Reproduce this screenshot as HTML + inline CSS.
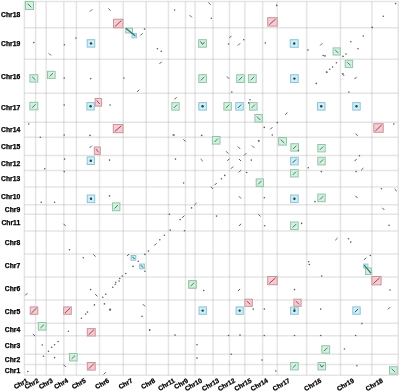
<!DOCTYPE html><html><head><meta charset="utf-8"><style>html,body{margin:0;padding:0;background:#fff;}svg{display:block;}text{font-family:"Liberation Sans",Arial,sans-serif;font-weight:bold;fill:#000;stroke:#000;stroke-width:0.25px;}</style></head><body>
<svg width="400" height="392" viewBox="0 0 400 392">
<rect width="400" height="392" fill="#fff"/>
<g>
<g stroke="#b9b9b9" stroke-opacity="0.37" stroke-width="1.5"><line x1="24.4" y1="1.4" x2="24.4" y2="375.3"/><line x1="35.6" y1="1.4" x2="35.6" y2="375.3"/><line x1="46.2" y1="1.4" x2="46.2" y2="375.3"/><line x1="63.9" y1="1.4" x2="63.9" y2="375.3"/><line x1="76.4" y1="1.4" x2="76.4" y2="375.3"/><line x1="99.5" y1="1.4" x2="99.5" y2="375.3"/><line x1="123.2" y1="1.4" x2="123.2" y2="375.3"/><line x1="146.2" y1="1.4" x2="146.2" y2="375.3"/><line x1="168.45" y1="1.4" x2="168.45" y2="375.3"/><line x1="185.5" y1="1.4" x2="185.5" y2="375.3"/><line x1="195.1" y1="1.4" x2="195.1" y2="375.3"/><line x1="213.0" y1="1.4" x2="213.0" y2="375.3"/><line x1="229.5" y1="1.4" x2="229.5" y2="375.3"/><line x1="244.9" y1="1.4" x2="244.9" y2="375.3"/><line x1="262.6" y1="1.4" x2="262.6" y2="375.3"/><line x1="277.3" y1="1.4" x2="277.3" y2="375.3"/><line x1="306.6" y1="1.4" x2="306.6" y2="375.3"/><line x1="340.45" y1="1.4" x2="340.45" y2="375.3"/><line x1="371.9" y1="1.4" x2="371.9" y2="375.3"/><line x1="398.2" y1="1.4" x2="398.2" y2="375.3"/><line x1="24.4" y1="1.4" x2="398.2" y2="1.4"/><line x1="24.4" y1="27.7" x2="398.2" y2="27.7"/><line x1="24.4" y1="59.3" x2="398.2" y2="59.3"/><line x1="24.4" y1="93.2" x2="398.2" y2="93.2"/><line x1="24.4" y1="122.2" x2="398.2" y2="122.2"/><line x1="24.4" y1="137.3" x2="398.2" y2="137.3"/><line x1="24.4" y1="155.5" x2="398.2" y2="155.5"/><line x1="24.4" y1="170.4" x2="398.2" y2="170.4"/><line x1="24.4" y1="187.0" x2="398.2" y2="187.0"/><line x1="24.4" y1="204.7" x2="398.2" y2="204.7"/><line x1="24.4" y1="214.3" x2="398.2" y2="214.3"/><line x1="24.4" y1="231.1" x2="398.2" y2="231.1"/><line x1="24.4" y1="254.0" x2="398.2" y2="254.0"/><line x1="24.4" y1="276.9" x2="398.2" y2="276.9"/><line x1="24.4" y1="300.1" x2="398.2" y2="300.1"/><line x1="24.4" y1="323.3" x2="398.2" y2="323.3"/><line x1="24.4" y1="335.7" x2="398.2" y2="335.7"/><line x1="24.4" y1="354.2" x2="398.2" y2="354.2"/><line x1="24.4" y1="364.4" x2="398.2" y2="364.4"/><line x1="24.4" y1="375.3" x2="398.2" y2="375.3"/></g>
<rect x="25.5" y="1.5" width="8.0" height="8.0" fill="#d2f2e0" stroke="#93c4a8" stroke-width="1"/><line x1="27.7" y1="3.7" x2="31.3" y2="7.3" stroke="#3f6e58" stroke-width="0.9"/><rect x="87.2" y="39.7" width="7.5" height="7.4" fill="#cdf0f8" stroke="#8fc3d3" stroke-width="1"/><circle cx="91.0" cy="43.4" r="1.2" fill="#1f3f52"/><rect x="113.5" y="19.2" width="9.5" height="8.6" fill="#f6ccd0" stroke="#c8959e" stroke-width="1"/><line x1="115.1" y1="26.4" x2="121.4" y2="20.6" stroke="#8a3a4a" stroke-width="0.9"/><rect x="125.7" y="28.2" width="6.8" height="4.8" fill="#d2f2e0" stroke="#93c4a8" stroke-width="1"/><rect x="132.0" y="33.4" width="4.4" height="4.4" fill="#cdf0f8" stroke="#8fc3d3" stroke-width="1"/><rect x="198.6" y="39.7" width="7.8" height="7.5" fill="#d2f2e0" stroke="#93c4a8" stroke-width="1"/><path d="M200.5 41.5 L202.5 44.5 L204.5 42.0" fill="none" stroke="#3f6e58" stroke-width="1"/><rect x="267.7" y="17.7" width="9.5" height="8.4" fill="#f6ccd0" stroke="#c8959e" stroke-width="1"/><line x1="269.3" y1="24.7" x2="275.6" y2="19.1" stroke="#8a3a4a" stroke-width="0.9"/><rect x="290.2" y="39.7" width="8.0" height="7.6" fill="#cdf0f8" stroke="#8fc3d3" stroke-width="1"/><circle cx="294.2" cy="43.5" r="1.2" fill="#1f3f52"/><rect x="333.1" y="47.9" width="7.2" height="7.1" fill="#d2f2e0" stroke="#93c4a8" stroke-width="1"/><line x1="335.1" y1="49.8" x2="338.3" y2="53.1" stroke="#3f6e58" stroke-width="0.9"/><rect x="345.2" y="60.2" width="7.4" height="7.2" fill="#d2f2e0" stroke="#93c4a8" stroke-width="1"/><line x1="347.2" y1="62.2" x2="350.6" y2="65.4" stroke="#3f6e58" stroke-width="0.9"/><rect x="29.9" y="74.7" width="7.9" height="7.4" fill="#d2f2e0" stroke="#93c4a8" stroke-width="1"/><line x1="32.1" y1="76.7" x2="35.6" y2="80.1" stroke="#3f6e58" stroke-width="0.9"/><rect x="47.5" y="71.3" width="7.6" height="7.1" fill="#d2f2e0" stroke="#93c4a8" stroke-width="1"/><line x1="49.6" y1="76.5" x2="53.0" y2="73.2" stroke="#3f6e58" stroke-width="0.9"/><rect x="29.9" y="102.3" width="7.9" height="7.5" fill="#d2f2e0" stroke="#93c4a8" stroke-width="1"/><line x1="32.1" y1="107.8" x2="35.6" y2="104.3" stroke="#3f6e58" stroke-width="0.9"/><rect x="86.9" y="102.6" width="7.4" height="7.4" fill="#cdf0f8" stroke="#8fc3d3" stroke-width="1"/><circle cx="90.6" cy="106.3" r="1.2" fill="#1f3f52"/><rect x="95.1" y="98.5" width="6.5" height="7.6" fill="#f6ccd0" stroke="#c8959e" stroke-width="1"/><line x1="96.8" y1="100.6" x2="99.8" y2="104.0" stroke="#8a3a4a" stroke-width="0.9"/><rect x="113.3" y="124.5" width="9.7" height="8.2" fill="#f6ccd0" stroke="#c8959e" stroke-width="1"/><line x1="114.9" y1="131.4" x2="121.4" y2="125.8" stroke="#8a3a4a" stroke-width="0.9"/><rect x="171.8" y="102.6" width="7.4" height="7.5" fill="#d2f2e0" stroke="#93c4a8" stroke-width="1"/><line x1="173.8" y1="108.0" x2="177.2" y2="104.6" stroke="#3f6e58" stroke-width="0.9"/><rect x="198.8" y="74.7" width="7.6" height="7.8" fill="#d2f2e0" stroke="#93c4a8" stroke-width="1"/><line x1="200.9" y1="80.4" x2="204.3" y2="76.8" stroke="#3f6e58" stroke-width="0.9"/><rect x="236.7" y="74.7" width="7.6" height="7.8" fill="#d2f2e0" stroke="#93c4a8" stroke-width="1"/><line x1="238.8" y1="80.4" x2="242.2" y2="76.8" stroke="#3f6e58" stroke-width="0.9"/><rect x="248.4" y="74.7" width="7.8" height="7.8" fill="#d2f2e0" stroke="#93c4a8" stroke-width="1"/><line x1="250.5" y1="80.4" x2="254.1" y2="76.8" stroke="#3f6e58" stroke-width="0.9"/><rect x="198.8" y="102.6" width="7.6" height="7.5" fill="#cdf0f8" stroke="#8fc3d3" stroke-width="1"/><circle cx="202.6" cy="106.3" r="1.2" fill="#1f3f52"/><rect x="223.9" y="102.6" width="7.4" height="7.5" fill="#d2f2e0" stroke="#93c4a8" stroke-width="1"/><line x1="225.9" y1="108.0" x2="229.3" y2="104.6" stroke="#3f6e58" stroke-width="0.9"/><rect x="235.7" y="102.6" width="7.6" height="7.5" fill="#cdf0f8" stroke="#8fc3d3" stroke-width="1"/><line x1="237.8" y1="108.0" x2="241.2" y2="104.6" stroke="#1f3f52" stroke-width="0.9"/><rect x="212.4" y="136.5" width="7.6" height="7.6" fill="#d2f2e0" stroke="#93c4a8" stroke-width="1"/><line x1="214.5" y1="142.0" x2="217.9" y2="138.6" stroke="#3f6e58" stroke-width="0.9"/><rect x="290.6" y="74.7" width="7.6" height="7.8" fill="#cdf0f8" stroke="#8fc3d3" stroke-width="1"/><circle cx="294.4" cy="78.6" r="1.2" fill="#1f3f52"/><rect x="249.5" y="102.6" width="7.6" height="7.5" fill="#d2f2e0" stroke="#93c4a8" stroke-width="1"/><line x1="251.6" y1="108.0" x2="255.0" y2="104.6" stroke="#3f6e58" stroke-width="0.9"/><rect x="254.9" y="114.5" width="7.4" height="7.6" fill="#d2f2e0" stroke="#93c4a8" stroke-width="1"/><line x1="256.9" y1="116.6" x2="260.3" y2="120.0" stroke="#3f6e58" stroke-width="0.9"/><rect x="278.6" y="137.5" width="7.8" height="7.6" fill="#d2f2e0" stroke="#93c4a8" stroke-width="1"/><line x1="280.7" y1="139.6" x2="284.3" y2="143.0" stroke="#3f6e58" stroke-width="0.9"/><rect x="290.9" y="143.7" width="7.6" height="7.4" fill="#d2f2e0" stroke="#93c4a8" stroke-width="1"/><line x1="293.0" y1="149.1" x2="296.4" y2="145.7" stroke="#3f6e58" stroke-width="0.9"/><rect x="317.4" y="102.6" width="7.6" height="7.5" fill="#cdf0f8" stroke="#8fc3d3" stroke-width="1"/><circle cx="321.2" cy="106.3" r="1.2" fill="#1f3f52"/><rect x="352.8" y="102.6" width="7.4" height="7.5" fill="#cdf0f8" stroke="#8fc3d3" stroke-width="1"/><circle cx="356.5" cy="106.3" r="1.2" fill="#1f3f52"/><rect x="373.8" y="123.7" width="9.4" height="8.6" fill="#f6ccd0" stroke="#c8959e" stroke-width="1"/><line x1="375.4" y1="130.9" x2="381.6" y2="125.1" stroke="#8a3a4a" stroke-width="0.9"/><rect x="94.3" y="147.0" width="6.0" height="7.4" fill="#f6ccd0" stroke="#c8959e" stroke-width="1"/><line x1="95.9" y1="149.0" x2="98.7" y2="152.4" stroke="#8a3a4a" stroke-width="0.9"/><rect x="87.2" y="156.9" width="7.2" height="7.6" fill="#cdf0f8" stroke="#8fc3d3" stroke-width="1"/><circle cx="90.8" cy="160.7" r="1.2" fill="#1f3f52"/><rect x="87.3" y="195.0" width="7.4" height="7.6" fill="#cdf0f8" stroke="#8fc3d3" stroke-width="1"/><circle cx="91.0" cy="198.8" r="1.2" fill="#1f3f52"/><rect x="112.5" y="202.9" width="7.4" height="7.8" fill="#d2f2e0" stroke="#93c4a8" stroke-width="1"/><line x1="114.5" y1="208.6" x2="117.9" y2="205.0" stroke="#3f6e58" stroke-width="0.9"/><rect x="317.8" y="144.5" width="7.4" height="7.4" fill="#d2f2e0" stroke="#93c4a8" stroke-width="1"/><line x1="319.8" y1="149.9" x2="323.2" y2="146.5" stroke="#3f6e58" stroke-width="0.9"/><rect x="290.6" y="157.3" width="7.6" height="7.6" fill="#cdf0f8" stroke="#8fc3d3" stroke-width="1"/><line x1="292.7" y1="162.8" x2="296.1" y2="159.4" stroke="#1f3f52" stroke-width="0.9"/><rect x="317.8" y="157.3" width="7.4" height="7.6" fill="#d2f2e0" stroke="#93c4a8" stroke-width="1"/><line x1="319.8" y1="162.8" x2="323.2" y2="159.4" stroke="#3f6e58" stroke-width="0.9"/><rect x="290.6" y="169.6" width="7.6" height="7.4" fill="#d2f2e0" stroke="#93c4a8" stroke-width="1"/><line x1="292.7" y1="175.0" x2="296.1" y2="171.6" stroke="#3f6e58" stroke-width="0.9"/><rect x="256.2" y="178.9" width="7.2" height="7.5" fill="#d2f2e0" stroke="#93c4a8" stroke-width="1"/><line x1="258.2" y1="184.3" x2="261.4" y2="181.0" stroke="#3f6e58" stroke-width="0.9"/><rect x="290.6" y="195.0" width="7.6" height="7.6" fill="#cdf0f8" stroke="#8fc3d3" stroke-width="1"/><circle cx="294.4" cy="198.8" r="1.2" fill="#1f3f52"/><rect x="317.8" y="194.1" width="7.4" height="7.6" fill="#d2f2e0" stroke="#93c4a8" stroke-width="1"/><line x1="319.8" y1="199.6" x2="323.2" y2="196.2" stroke="#3f6e58" stroke-width="0.9"/><rect x="131.1" y="255.5" width="4.7" height="4.7" fill="#cdf0f8" stroke="#8fc3d3" stroke-width="1"/><line x1="132.3" y1="256.7" x2="134.6" y2="259.0" stroke="#1f3f52" stroke-width="0.9"/><rect x="139.7" y="264.1" width="4.7" height="4.7" fill="#cdf0f8" stroke="#8fc3d3" stroke-width="1"/><line x1="140.9" y1="265.3" x2="143.2" y2="267.6" stroke="#1f3f52" stroke-width="0.9"/><rect x="188.8" y="280.7" width="7.3" height="7.4" fill="#d2f2e0" stroke="#93c4a8" stroke-width="1"/><line x1="190.8" y1="286.1" x2="194.1" y2="282.7" stroke="#3f6e58" stroke-width="0.9"/><rect x="290.6" y="222.0" width="7.6" height="7.6" fill="#d2f2e0" stroke="#93c4a8" stroke-width="1"/><line x1="292.7" y1="227.5" x2="296.1" y2="224.1" stroke="#3f6e58" stroke-width="0.9"/><rect x="267.7" y="276.5" width="9.5" height="8.2" fill="#f6ccd0" stroke="#c8959e" stroke-width="1"/><line x1="269.3" y1="283.4" x2="275.6" y2="277.8" stroke="#8a3a4a" stroke-width="0.9"/><rect x="363.7" y="264.1" width="4.2" height="4.0" fill="#cdf0f8" stroke="#8fc3d3" stroke-width="1"/><rect x="365.6" y="267.9" width="5.7" height="6.6" fill="#d2f2e0" stroke="#93c4a8" stroke-width="1"/><rect x="371.9" y="276.5" width="9.2" height="8.4" fill="#f6ccd0" stroke="#c8959e" stroke-width="1"/><line x1="373.4" y1="283.5" x2="379.6" y2="277.9" stroke="#8a3a4a" stroke-width="0.9"/><rect x="30.2" y="306.9" width="7.6" height="7.4" fill="#f6ccd0" stroke="#c8959e" stroke-width="1"/><line x1="31.4" y1="313.1" x2="36.6" y2="308.1" stroke="#8a3a4a" stroke-width="0.9"/><rect x="63.7" y="306.9" width="7.6" height="7.4" fill="#f6ccd0" stroke="#c8959e" stroke-width="1"/><line x1="64.9" y1="313.1" x2="70.1" y2="308.1" stroke="#8a3a4a" stroke-width="0.9"/><rect x="38.3" y="322.5" width="7.8" height="7.6" fill="#d2f2e0" stroke="#93c4a8" stroke-width="1"/><line x1="40.4" y1="328.0" x2="44.0" y2="324.6" stroke="#3f6e58" stroke-width="0.9"/><rect x="87.3" y="328.6" width="7.9" height="7.4" fill="#f6ccd0" stroke="#c8959e" stroke-width="1"/><line x1="88.6" y1="334.8" x2="93.9" y2="329.8" stroke="#8a3a4a" stroke-width="0.9"/><rect x="69.5" y="353.5" width="7.6" height="7.4" fill="#d2f2e0" stroke="#93c4a8" stroke-width="1"/><line x1="71.6" y1="358.9" x2="75.0" y2="355.5" stroke="#3f6e58" stroke-width="0.9"/><rect x="87.3" y="362.5" width="7.9" height="7.6" fill="#f6ccd0" stroke="#c8959e" stroke-width="1"/><line x1="88.6" y1="368.9" x2="93.9" y2="363.7" stroke="#8a3a4a" stroke-width="0.9"/><rect x="188.8" y="280.7" width="7.3" height="7.4" fill="#d2f2e0" stroke="#93c4a8" stroke-width="1"/><line x1="190.8" y1="286.1" x2="194.1" y2="282.7" stroke="#3f6e58" stroke-width="0.9"/><rect x="199.0" y="306.9" width="7.4" height="7.4" fill="#cdf0f8" stroke="#8fc3d3" stroke-width="1"/><circle cx="202.7" cy="310.6" r="1.2" fill="#1f3f52"/><rect x="236.1" y="306.9" width="7.2" height="7.4" fill="#cdf0f8" stroke="#8fc3d3" stroke-width="1"/><circle cx="239.7" cy="310.6" r="1.2" fill="#1f3f52"/><rect x="244.9" y="299.2" width="7.4" height="7.1" fill="#f6ccd0" stroke="#c8959e" stroke-width="1"/><line x1="246.9" y1="301.1" x2="250.3" y2="304.4" stroke="#8a3a4a" stroke-width="0.9"/><rect x="293.9" y="299.2" width="7.2" height="7.1" fill="#f6ccd0" stroke="#c8959e" stroke-width="1"/><line x1="295.9" y1="301.1" x2="299.1" y2="304.4" stroke="#8a3a4a" stroke-width="0.9"/><rect x="290.6" y="307.1" width="7.6" height="7.2" fill="#cdf0f8" stroke="#8fc3d3" stroke-width="1"/><circle cx="294.4" cy="310.7" r="1.2" fill="#1f3f52"/><rect x="352.8" y="306.9" width="7.4" height="7.4" fill="#cdf0f8" stroke="#8fc3d3" stroke-width="1"/><line x1="354.8" y1="312.3" x2="358.2" y2="308.9" stroke="#1f3f52" stroke-width="0.9"/><rect x="321.8" y="345.7" width="7.8" height="7.5" fill="#d2f2e0" stroke="#93c4a8" stroke-width="1"/><line x1="323.9" y1="351.1" x2="327.5" y2="347.8" stroke="#3f6e58" stroke-width="0.9"/><rect x="290.6" y="362.5" width="7.6" height="7.4" fill="#d2f2e0" stroke="#93c4a8" stroke-width="1"/><line x1="292.7" y1="367.9" x2="296.1" y2="364.5" stroke="#3f6e58" stroke-width="0.9"/><rect x="318.0" y="362.5" width="7.5" height="7.4" fill="#d2f2e0" stroke="#93c4a8" stroke-width="1"/><path d="M319.8 364.2 L321.8 367.2 L323.8 364.7" fill="none" stroke="#3f6e58" stroke-width="1"/><rect x="389.5" y="366.7" width="7.7" height="7.4" fill="#d2f2e0" stroke="#93c4a8" stroke-width="1"/><line x1="391.6" y1="368.7" x2="395.1" y2="372.1" stroke="#3f6e58" stroke-width="0.9"/>
<line x1="125.8" y1="28.3" x2="135.3" y2="36" stroke="#2f6f72" stroke-width="1.1"/>
<line x1="364.2" y1="265.1" x2="370.9" y2="273.1" stroke="#2f6f72" stroke-width="1.1"/>
<g fill="#5a5a5a"><circle cx="33.8" cy="42.6" r="0.8"/><circle cx="64.4" cy="44.7" r="0.8"/><circle cx="75.9" cy="38" r="0.8"/><line x1="48.8" y1="53.3" x2="51.0" y2="55.5" stroke="#5a5a5a" stroke-width="1"/><line x1="89.9" y1="11.6" x2="92.1" y2="9.4" stroke="#5a5a5a" stroke-width="1"/><line x1="108.4" y1="8.5" x2="110.6" y2="10.7" stroke="#5a5a5a" stroke-width="1"/><circle cx="144.5" cy="29.1" r="0.8"/><line x1="140.3" y1="35.5" x2="142.5" y2="33.3" stroke="#5a5a5a" stroke-width="1"/><circle cx="157.4" cy="48.8" r="0.8"/><circle cx="161.2" cy="51.3" r="0.8"/><line x1="159.5" y1="63.9" x2="161.7" y2="61.7" stroke="#5a5a5a" stroke-width="1"/><circle cx="174.6" cy="10.0" r="0.8"/><line x1="189.7" y1="15.2" x2="191.9" y2="17.4" stroke="#5a5a5a" stroke-width="1"/><line x1="208.4" y1="2.5" x2="210.6" y2="4.7" stroke="#5a5a5a" stroke-width="1"/><circle cx="211.3" cy="18.2" r="0.8"/><line x1="229.3" y1="38.0" x2="231.5" y2="35.8" stroke="#5a5a5a" stroke-width="1"/><circle cx="228.5" cy="44" r="0.8"/><line x1="237.9" y1="45.5" x2="240.1" y2="43.3" stroke="#5a5a5a" stroke-width="1"/><circle cx="243.8" cy="39.8" r="0.8"/><circle cx="276.7" cy="5.4" r="0.8"/><circle cx="265.3" cy="43" r="0.8"/><circle cx="307.9" cy="50.1" r="0.8"/><line x1="320.2" y1="45.5" x2="322.4" y2="43.3" stroke="#5a5a5a" stroke-width="1"/><circle cx="323.2" cy="55.5" r="0.8"/><circle cx="395.6" cy="3.6" r="0.8"/><circle cx="383.3" cy="16.3" r="0.8"/><circle cx="372.2" cy="27.4" r="0.8"/><circle cx="363.2" cy="36" r="0.8"/><circle cx="350.8" cy="41.7" r="0.8"/><circle cx="358" cy="48.8" r="0.8"/><circle cx="346" cy="54" r="0.8"/><circle cx="343" cy="56.4" r="0.8"/><circle cx="325" cy="55.9" r="0.8"/><circle cx="336.4" cy="62.8" r="0.8"/><circle cx="332.6" cy="67" r="0.8"/><circle cx="329.7" cy="69.3" r="0.8"/><circle cx="326.9" cy="72.3" r="0.8"/><circle cx="343" cy="73.7" r="0.8"/><circle cx="64.2" cy="78" r="0.8"/><circle cx="90.6" cy="78.6" r="0.8"/><circle cx="64.2" cy="105" r="0.8"/><circle cx="28.8" cy="124" r="0.8"/><circle cx="40.3" cy="137.3" r="0.8"/><circle cx="64.2" cy="135" r="0.8"/><circle cx="90" cy="135.4" r="0.8"/><circle cx="123.9" cy="78" r="0.8"/><line x1="137.1" y1="91.9" x2="139.3" y2="89.7" stroke="#5a5a5a" stroke-width="1"/><circle cx="110.1" cy="105" r="0.8"/><circle cx="173.2" cy="135" r="0.8"/><line x1="227.0" y1="76.6" x2="229.2" y2="78.8" stroke="#5a5a5a" stroke-width="1"/><circle cx="231.8" cy="92" r="0.8"/><line x1="174.4" y1="99.4" x2="176.6" y2="97.2" stroke="#5a5a5a" stroke-width="1"/><circle cx="248.6" cy="102.9" r="0.8"/><circle cx="174" cy="135" r="0.8"/><line x1="183.4" y1="139.3" x2="185.6" y2="141.5" stroke="#5a5a5a" stroke-width="1"/><circle cx="201.7" cy="135.4" r="0.8"/><circle cx="316.3" cy="83.4" r="0.8"/><circle cx="250" cy="99.7" r="0.8"/><line x1="285.2" y1="114.7" x2="287.4" y2="112.5" stroke="#5a5a5a" stroke-width="1"/><circle cx="277.3" cy="122.6" r="0.8"/><circle cx="264.3" cy="127.4" r="0.8"/><line x1="270.2" y1="129.4" x2="272.4" y2="127.2" stroke="#5a5a5a" stroke-width="1"/><circle cx="272.3" cy="135" r="0.8"/><circle cx="258.6" cy="140.8" r="0.8"/><circle cx="326.5" cy="72" r="0.8"/><line x1="342.0" y1="73.7" x2="344.2" y2="75.9" stroke="#5a5a5a" stroke-width="1"/><line x1="354.5" y1="79.1" x2="356.7" y2="76.9" stroke="#5a5a5a" stroke-width="1"/><circle cx="348.9" cy="92" r="0.8"/><circle cx="393.8" cy="124" r="0.8"/><line x1="355.4" y1="133.6" x2="357.6" y2="135.8" stroke="#5a5a5a" stroke-width="1"/><line x1="89.7" y1="147.9" x2="91.9" y2="145.7" stroke="#5a5a5a" stroke-width="1"/><circle cx="64.6" cy="159.1" r="0.8"/><circle cx="44.7" cy="168.7" r="0.8"/><circle cx="64.2" cy="171.6" r="0.8"/><circle cx="41.2" cy="202.2" r="0.8"/><circle cx="54.6" cy="202.2" r="0.8"/><circle cx="109.5" cy="160.1" r="0.8"/><circle cx="109.5" cy="195.9" r="0.8"/><line x1="237.9" y1="146.6" x2="240.1" y2="148.8" stroke="#5a5a5a" stroke-width="1"/><line x1="226.1" y1="151.3" x2="228.3" y2="153.5" stroke="#5a5a5a" stroke-width="1"/><line x1="244.1" y1="155.4" x2="246.3" y2="153.2" stroke="#5a5a5a" stroke-width="1"/><circle cx="175.5" cy="159.1" r="0.8"/><line x1="200.6" y1="159.0" x2="202.8" y2="161.2" stroke="#5a5a5a" stroke-width="1"/><line x1="227.4" y1="160.8" x2="229.6" y2="158.6" stroke="#5a5a5a" stroke-width="1"/><line x1="238.9" y1="158.9" x2="241.1" y2="161.1" stroke="#5a5a5a" stroke-width="1"/><line x1="231.0" y1="168.7" x2="233.2" y2="166.5" stroke="#5a5a5a" stroke-width="1"/><line x1="238.9" y1="172.3" x2="241.1" y2="170.1" stroke="#5a5a5a" stroke-width="1"/><circle cx="246.7" cy="172.5" r="0.8"/><circle cx="224.7" cy="175.4" r="0.8"/><circle cx="221.4" cy="178.8" r="0.8"/><line x1="214.6" y1="185.1" x2="216.8" y2="182.9" stroke="#5a5a5a" stroke-width="1"/><line x1="210.8" y1="186.7" x2="213.0" y2="188.9" stroke="#5a5a5a" stroke-width="1"/><circle cx="183.6" cy="183" r="0.8"/><line x1="238.9" y1="196.3" x2="241.1" y2="198.5" stroke="#5a5a5a" stroke-width="1"/><line x1="194.3" y1="205.2" x2="196.5" y2="203.0" stroke="#5a5a5a" stroke-width="1"/><circle cx="191.6" cy="207.9" r="0.8"/><circle cx="259" cy="141" r="0.8"/><line x1="252.1" y1="145.6" x2="254.3" y2="147.8" stroke="#5a5a5a" stroke-width="1"/><circle cx="298.4" cy="150.5" r="0.8"/><circle cx="251.3" cy="160.1" r="0.8"/><circle cx="308.3" cy="167.7" r="0.8"/><circle cx="321.3" cy="171.6" r="0.8"/><circle cx="264.3" cy="197.8" r="0.8"/><circle cx="315" cy="201.6" r="0.8"/><circle cx="359.4" cy="155.7" r="0.8"/><line x1="354.5" y1="161.2" x2="356.7" y2="159.0" stroke="#5a5a5a" stroke-width="1"/><circle cx="356.1" cy="171.6" r="0.8"/><line x1="361.2" y1="170.2" x2="363.4" y2="168.0" stroke="#5a5a5a" stroke-width="1"/><circle cx="381.4" cy="188.8" r="0.8"/><line x1="394.6" y1="189.0" x2="396.8" y2="191.2" stroke="#5a5a5a" stroke-width="1"/><line x1="355.4" y1="195.9" x2="357.6" y2="198.1" stroke="#5a5a5a" stroke-width="1"/><line x1="382.2" y1="207.8" x2="384.4" y2="210.0" stroke="#5a5a5a" stroke-width="1"/><line x1="63.5" y1="223.8" x2="65.7" y2="226.0" stroke="#5a5a5a" stroke-width="1"/><circle cx="69.5" cy="249.8" r="0.8"/><circle cx="83.3" cy="257.8" r="0.8"/><line x1="93.3" y1="254.4" x2="95.5" y2="256.6" stroke="#5a5a5a" stroke-width="1"/><circle cx="169.4" cy="214.2" r="0.8"/><circle cx="170.2" cy="230.1" r="0.8"/><circle cx="164.4" cy="235.3" r="0.8"/><circle cx="159.8" cy="239.7" r="0.8"/><line x1="154.3" y1="245.5" x2="156.5" y2="243.3" stroke="#5a5a5a" stroke-width="1"/><circle cx="148.4" cy="251.1" r="0.8"/><circle cx="144.9" cy="254.4" r="0.8"/><line x1="127.0" y1="256.1" x2="129.2" y2="253.9" stroke="#5a5a5a" stroke-width="1"/><circle cx="133" cy="266.4" r="0.8"/><circle cx="138.2" cy="261.3" r="0.8"/><circle cx="144.9" cy="271.2" r="0.8"/><circle cx="125.8" cy="273.5" r="0.8"/><circle cx="122.3" cy="276" r="0.8"/><circle cx="119.7" cy="278.5" r="0.8"/><circle cx="115.8" cy="282.3" r="0.8"/><line x1="182.1" y1="217.8" x2="184.3" y2="215.6" stroke="#5a5a5a" stroke-width="1"/><circle cx="180.1" cy="219.6" r="0.8"/><circle cx="216.5" cy="216.1" r="0.8"/><line x1="238.9" y1="226.0" x2="241.1" y2="223.8" stroke="#5a5a5a" stroke-width="1"/><circle cx="184.5" cy="230.7" r="0.8"/><line x1="258.4" y1="214.3" x2="260.6" y2="216.5" stroke="#5a5a5a" stroke-width="1"/><circle cx="264.7" cy="225.7" r="0.8"/><circle cx="301.6" cy="223.4" r="0.8"/><circle cx="308.7" cy="261.7" r="0.8"/><circle cx="309.3" cy="264.5" r="0.8"/><circle cx="321.7" cy="276" r="0.8"/><circle cx="389" cy="225.3" r="0.8"/><line x1="335.3" y1="240.2" x2="337.5" y2="238.0" stroke="#5a5a5a" stroke-width="1"/><circle cx="348.5" cy="238.7" r="0.8"/><circle cx="350.8" cy="242.1" r="0.8"/><line x1="364.0" y1="259.9" x2="366.2" y2="257.7" stroke="#5a5a5a" stroke-width="1"/><circle cx="370.3" cy="255.5" r="0.8"/><line x1="25.2" y1="295.4" x2="27.4" y2="293.2" stroke="#5a5a5a" stroke-width="1"/><circle cx="90.6" cy="289.6" r="0.8"/><line x1="95.2" y1="294.2" x2="97.4" y2="296.4" stroke="#5a5a5a" stroke-width="1"/><circle cx="94.4" cy="304.9" r="0.8"/><circle cx="87.5" cy="312.1" r="0.8"/><circle cx="85.6" cy="314.1" r="0.8"/><circle cx="81.4" cy="318.3" r="0.8"/><circle cx="68.4" cy="331.3" r="0.8"/><line x1="32.9" y1="334.0" x2="35.1" y2="336.2" stroke="#5a5a5a" stroke-width="1"/><circle cx="58.1" cy="341.6" r="0.8"/><circle cx="54.6" cy="344.7" r="0.8"/><circle cx="51.7" cy="347.3" r="0.8"/><circle cx="48.5" cy="351.2" r="0.8"/><circle cx="42.2" cy="345" r="0.8"/><circle cx="43.5" cy="356.2" r="0.8"/><circle cx="54.6" cy="357.6" r="0.8"/><line x1="63.5" y1="364.7" x2="65.7" y2="366.9" stroke="#5a5a5a" stroke-width="1"/><circle cx="27.8" cy="371.5" r="0.8"/><circle cx="119.1" cy="281" r="0.8"/><circle cx="115.3" cy="284.2" r="0.8"/><circle cx="112.8" cy="287.3" r="0.8"/><circle cx="105.7" cy="294.3" r="0.8"/><circle cx="102.8" cy="297.2" r="0.8"/><circle cx="104.4" cy="303.9" r="0.8"/><circle cx="110.1" cy="309.7" r="1.1"/><line x1="142.9" y1="304.2" x2="145.1" y2="306.4" stroke="#5a5a5a" stroke-width="1"/><circle cx="142" cy="316.3" r="0.8"/><circle cx="149.7" cy="330.1" r="0.8"/><circle cx="203.7" cy="290.5" r="0.8"/><line x1="237.9" y1="291.1" x2="240.1" y2="288.9" stroke="#5a5a5a" stroke-width="1"/><circle cx="175" cy="335.1" r="0.8"/><circle cx="228.5" cy="335.5" r="0.8"/><circle cx="240" cy="335.1" r="0.8"/><circle cx="197" cy="344.7" r="0.8"/><circle cx="231.2" cy="354.3" r="0.8"/><circle cx="197" cy="358.1" r="0.8"/><circle cx="294.5" cy="289.6" r="0.8"/><circle cx="253.2" cy="309.1" r="0.8"/><circle cx="264.3" cy="309.1" r="0.8"/><circle cx="294.5" cy="309.1" r="0.8"/><circle cx="320.7" cy="309.1" r="0.8"/><circle cx="264.3" cy="335.5" r="0.8"/><circle cx="294.5" cy="335.5" r="0.8"/><circle cx="320.7" cy="335.5" r="0.8"/><circle cx="390" cy="290" r="0.8"/><line x1="387.9" y1="309.4" x2="390.1" y2="307.2" stroke="#5a5a5a" stroke-width="1"/><circle cx="361.9" cy="323.6" r="0.8"/><circle cx="355.6" cy="335.5" r="0.8"/><circle cx="344.4" cy="349" r="0.8"/><circle cx="262" cy="360" r="0.8"/><circle cx="275.8" cy="371" r="0.8"/><circle cx="356.9" cy="365.8" r="0.8"/><circle cx="149.7" cy="330" r="0.8"/><line x1="103.6" y1="374.5" x2="105.8" y2="372.3" stroke="#5a5a5a" stroke-width="1"/></g>
<text x="20.3" y="17.2" font-size="6.8" text-anchor="end">Chr18</text><text x="20.3" y="46.2" font-size="6.8" text-anchor="end">Chr19</text><text x="20.3" y="79.0" font-size="6.8" text-anchor="end">Chr16</text><text x="20.3" y="110.4" font-size="6.8" text-anchor="end">Chr17</text><text x="20.3" y="132.4" font-size="6.8" text-anchor="end">Chr14</text><text x="20.3" y="149.1" font-size="6.8" text-anchor="end">Chr15</text><text x="20.3" y="165.6" font-size="6.8" text-anchor="end">Chr12</text><text x="20.3" y="181.4" font-size="6.8" text-anchor="end">Chr13</text><text x="20.3" y="198.5" font-size="6.8" text-anchor="end">Chr10</text><text x="20.3" y="212.2" font-size="6.8" text-anchor="end">Chr9</text><text x="20.3" y="225.4" font-size="6.8" text-anchor="end">Chr11</text><text x="20.3" y="245.2" font-size="6.8" text-anchor="end">Chr8</text><text x="20.3" y="268.1" font-size="6.8" text-anchor="end">Chr7</text><text x="20.3" y="291.2" font-size="6.8" text-anchor="end">Chr6</text><text x="20.3" y="314.4" font-size="6.8" text-anchor="end">Chr5</text><text x="20.3" y="332.2" font-size="6.8" text-anchor="end">Chr4</text><text x="20.3" y="347.6" font-size="6.8" text-anchor="end">Chr3</text><text x="20.3" y="362.0" font-size="6.8" text-anchor="end">Chr2</text><text x="20.3" y="372.6" font-size="6.8" text-anchor="end">Chr1</text><text x="28.5" y="381.8" font-size="6.6" text-anchor="end" transform="rotate(-30 28.5 381.8)">Chr1</text><text x="39.4" y="381.8" font-size="6.6" text-anchor="end" transform="rotate(-30 39.4 381.8)">Chr2</text><text x="53.5" y="381.8" font-size="6.6" text-anchor="end" transform="rotate(-30 53.5 381.8)">Chr3</text><text x="68.7" y="381.8" font-size="6.6" text-anchor="end" transform="rotate(-30 68.7 381.8)">Chr4</text><text x="86.5" y="381.8" font-size="6.6" text-anchor="end" transform="rotate(-30 86.5 381.8)">Chr5</text><text x="109.8" y="381.8" font-size="6.6" text-anchor="end" transform="rotate(-30 109.8 381.8)">Chr6</text><text x="133.2" y="381.8" font-size="6.6" text-anchor="end" transform="rotate(-30 133.2 381.8)">Chr7</text><text x="155.8" y="381.8" font-size="6.6" text-anchor="end" transform="rotate(-30 155.8 381.8)">Chr8</text><text x="175.5" y="381.8" font-size="6.6" text-anchor="end" transform="rotate(-30 175.5 381.8)">Chr11</text><text x="188.8" y="381.8" font-size="6.6" text-anchor="end" transform="rotate(-30 188.8 381.8)">Chr9</text><text x="202.6" y="381.8" font-size="6.6" text-anchor="end" transform="rotate(-30 202.6 381.8)">Chr10</text><text x="219.8" y="381.8" font-size="6.6" text-anchor="end" transform="rotate(-30 219.8 381.8)">Chr13</text><text x="235.7" y="381.8" font-size="6.6" text-anchor="end" transform="rotate(-30 235.7 381.8)">Chr12</text><text x="252.2" y="381.8" font-size="6.6" text-anchor="end" transform="rotate(-30 252.2 381.8)">Chr15</text><text x="268.5" y="381.8" font-size="6.6" text-anchor="end" transform="rotate(-30 268.5 381.8)">Chr14</text><text x="290.5" y="381.8" font-size="6.6" text-anchor="end" transform="rotate(-30 290.5 381.8)">Chr17</text><text x="322.0" y="381.8" font-size="6.6" text-anchor="end" transform="rotate(-30 322.0 381.8)">Chr16</text><text x="354.7" y="381.8" font-size="6.6" text-anchor="end" transform="rotate(-30 354.7 381.8)">Chr19</text><text x="383.5" y="381.8" font-size="6.6" text-anchor="end" transform="rotate(-30 383.5 381.8)">Chr18</text>
</g>
</svg></body></html>
